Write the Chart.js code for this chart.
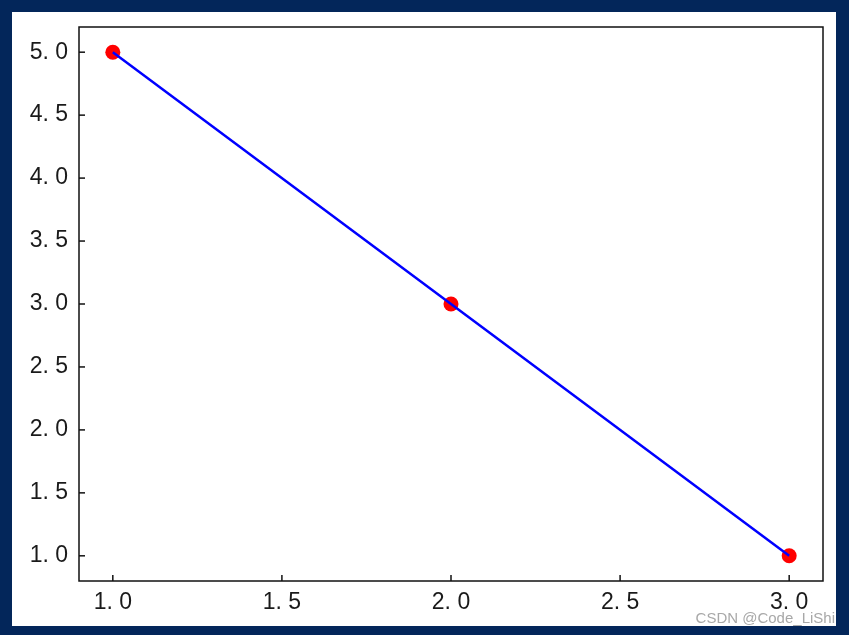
<!DOCTYPE html>
<html>
<head>
<meta charset="utf-8">
<script src="https://cdn.jsdelivr.net/npm/chart.js@4.4.0/dist/chart.umd.min.js"></script>
<style>
  html, body { margin: 0; padding: 0; background: #03265a; width: 849px; height: 635px; overflow: hidden; }
  #paper { position: absolute; left: 12px; top: 12px; width: 824px; height: 614px; background: #fff; }
  #wrap { position: absolute; left: 0; top: 0; width: 849px; height: 635px; }
  #mark { position: absolute; right: 14px; top: 609px; font: 15px "Liberation Sans", Arial, sans-serif; color: #a8a8a8; line-height: 17px; }
</style>
</head>
<body>
<div id="paper"></div>
<div id="wrap"><canvas id="chart"></canvas></div>
<div id="mark">CSDN @Code_LiShi</div>
<script>
// data
const xValues = [1, 2, 3];
const yValues = [5, 3, 1];
const xTicks = [1.0, 1.5, 2.0, 2.5, 3.0];
const xTickLabels = ['1. 0', '1. 5', '2. 0', '2. 5', '3. 0'];
const yTicks = [1.0, 1.5, 2.0, 2.5, 3.0, 3.5, 4.0, 4.5, 5.0];
const yTickLabels = ['1. 0', '1. 5', '2. 0', '2. 5', '3. 0', '3. 5', '4. 0', '4. 5', '5. 0'];

const points = xValues.map((x, i) => ({ x: x, y: yValues[i] }));
const tickFont = { family: '"Liberation Sans", Arial, sans-serif', size: 23 };

// frame + inward ticks, like matplotlib
const framePlugin = {
    id: 'frame',
    afterDraw(chart) {
        const { ctx, chartArea: a, scales } = chart;
        ctx.save();
        ctx.strokeStyle = '#111';
        ctx.lineWidth = 1.5;
        ctx.strokeRect(a.left, a.top, a.right - a.left, a.bottom - a.top);
        xTicks.forEach(v => {
            const px = scales.x.getPixelForValue(v);
            ctx.beginPath(); ctx.moveTo(px, a.bottom); ctx.lineTo(px, a.bottom - 6); ctx.stroke();
        });
        yTicks.forEach(v => {
            const py = scales.y.getPixelForValue(v);
            ctx.beginPath(); ctx.moveTo(a.left, py); ctx.lineTo(a.left + 6, py); ctx.stroke();
        });
        ctx.restore();
    }
};

new Chart(document.getElementById('chart'), {
    type: 'scatter',
    data: {
        datasets: [
            { data: points, showLine: true, borderColor: '#0000ff', borderWidth: 2.5, pointRadius: 0, order: 0 },
            { data: points, showLine: false, pointRadius: 7.5, pointBackgroundColor: '#ff0000', pointBorderWidth: 0, order: 1 }
        ]
    },
    options: {
        responsive: true,
        maintainAspectRatio: false,
        animation: false,
        layout: { padding: { left: 0, right: 26, top: 27, bottom: 0 } },
        plugins: { legend: { display: false }, tooltip: { enabled: false } },
        scales: {
            x: {
                type: 'linear', min: 0.9, max: 3.1,
                grid: { display: false, drawTicks: false }, border: { display: false },
                afterBuildTicks: s => { s.ticks = xTicks.map(v => ({ value: v })); },
                afterFit: s => { s.height = 54; },
                ticks: {
                    color: '#1a1a1a', font: tickFont, padding: 8, maxRotation: 0,
                    callback: v => xTickLabels[xTicks.indexOf(v)]
                }
            },
            y: {
                type: 'linear', min: 0.8, max: 5.2,
                grid: { display: false, drawTicks: false }, border: { display: false },
                afterBuildTicks: s => { s.ticks = yTicks.map(v => ({ value: v })); },
                afterFit: s => { s.width = 79; },
                ticks: {
                    color: '#1a1a1a', font: tickFont, padding: 11,
                    callback: v => yTickLabels[yTicks.indexOf(v)]
                }
            }
        }
    },
    plugins: [framePlugin]
});
</script>
</body>
</html>
